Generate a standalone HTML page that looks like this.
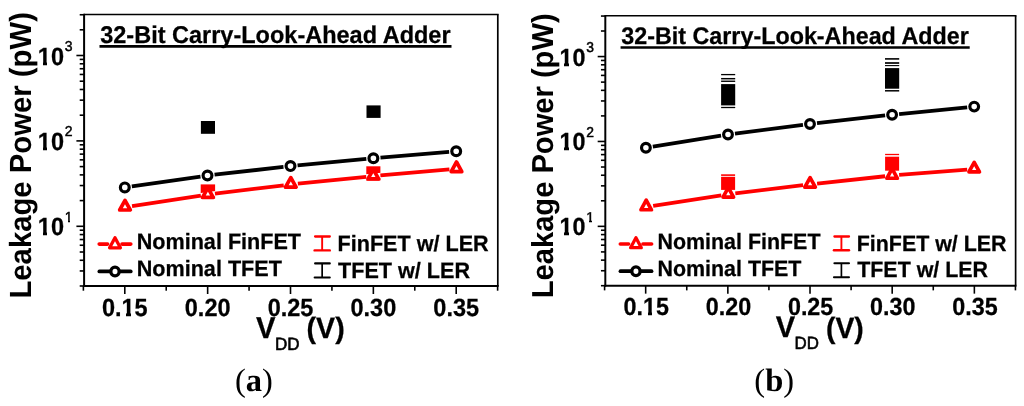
<!DOCTYPE html>
<html><head><meta charset="utf-8"><title>Leakage Power vs VDD</title>
<style>html,body{margin:0;padding:0;background:#fff;overflow:hidden}svg{display:block}</style>
</head><body>
<svg width="1024" height="406" viewBox="0 0 1024 406" text-rendering="geometricPrecision">
<rect width="1024" height="406" fill="#fff"/>
<line x1="84.1" y1="14.5" x2="498.65" y2="14.5" stroke="#000" stroke-width="1.5"/>
<line x1="497.8" y1="14.5" x2="497.8" y2="286.1" stroke="#000" stroke-width="1.7"/>
<line x1="84.1" y1="13.75" x2="84.1" y2="287.1" stroke="#000" stroke-width="2"/>
<line x1="83.1" y1="286.1" x2="498.65" y2="286.1" stroke="#000" stroke-width="2"/>
<line x1="79.7" y1="285.99" x2="84.1" y2="285.99" stroke="#000" stroke-width="1.6"/>
<line x1="79.7" y1="270.95" x2="84.1" y2="270.95" stroke="#000" stroke-width="1.6"/>
<line x1="79.7" y1="260.28" x2="84.1" y2="260.28" stroke="#000" stroke-width="1.6"/>
<line x1="79.7" y1="252.01" x2="84.1" y2="252.01" stroke="#000" stroke-width="1.6"/>
<line x1="79.7" y1="245.25" x2="84.1" y2="245.25" stroke="#000" stroke-width="1.6"/>
<line x1="79.7" y1="239.53" x2="84.1" y2="239.53" stroke="#000" stroke-width="1.6"/>
<line x1="79.7" y1="234.58" x2="84.1" y2="234.58" stroke="#000" stroke-width="1.6"/>
<line x1="79.7" y1="230.21" x2="84.1" y2="230.21" stroke="#000" stroke-width="1.6"/>
<line x1="76.4" y1="226.3" x2="84.1" y2="226.3" stroke="#000" stroke-width="1.6"/>
<line x1="79.7" y1="200.59" x2="84.1" y2="200.59" stroke="#000" stroke-width="1.6"/>
<line x1="79.7" y1="185.55" x2="84.1" y2="185.55" stroke="#000" stroke-width="1.6"/>
<line x1="79.7" y1="174.88" x2="84.1" y2="174.88" stroke="#000" stroke-width="1.6"/>
<line x1="79.7" y1="166.61" x2="84.1" y2="166.61" stroke="#000" stroke-width="1.6"/>
<line x1="79.7" y1="159.85" x2="84.1" y2="159.85" stroke="#000" stroke-width="1.6"/>
<line x1="79.7" y1="154.13" x2="84.1" y2="154.13" stroke="#000" stroke-width="1.6"/>
<line x1="79.7" y1="149.18" x2="84.1" y2="149.18" stroke="#000" stroke-width="1.6"/>
<line x1="79.7" y1="144.81" x2="84.1" y2="144.81" stroke="#000" stroke-width="1.6"/>
<line x1="76.4" y1="140.9" x2="84.1" y2="140.9" stroke="#000" stroke-width="1.6"/>
<line x1="79.7" y1="115.19" x2="84.1" y2="115.19" stroke="#000" stroke-width="1.6"/>
<line x1="79.7" y1="100.15" x2="84.1" y2="100.15" stroke="#000" stroke-width="1.6"/>
<line x1="79.7" y1="89.48" x2="84.1" y2="89.48" stroke="#000" stroke-width="1.6"/>
<line x1="79.7" y1="81.21" x2="84.1" y2="81.21" stroke="#000" stroke-width="1.6"/>
<line x1="79.7" y1="74.45" x2="84.1" y2="74.45" stroke="#000" stroke-width="1.6"/>
<line x1="79.7" y1="68.73" x2="84.1" y2="68.73" stroke="#000" stroke-width="1.6"/>
<line x1="79.7" y1="63.78" x2="84.1" y2="63.78" stroke="#000" stroke-width="1.6"/>
<line x1="79.7" y1="59.41" x2="84.1" y2="59.41" stroke="#000" stroke-width="1.6"/>
<line x1="76.4" y1="55.5" x2="84.1" y2="55.5" stroke="#000" stroke-width="1.6"/>
<line x1="79.7" y1="29.79" x2="84.1" y2="29.79" stroke="#000" stroke-width="1.6"/>
<line x1="79.7" y1="14.75" x2="84.1" y2="14.75" stroke="#000" stroke-width="1.6"/>
<line x1="83.38" y1="286.1" x2="83.38" y2="290.7" stroke="#000" stroke-width="1.6"/>
<line x1="124.8" y1="286.1" x2="124.8" y2="294" stroke="#000" stroke-width="1.6"/>
<line x1="166.22" y1="286.1" x2="166.22" y2="290.7" stroke="#000" stroke-width="1.6"/>
<line x1="207.65" y1="286.1" x2="207.65" y2="294" stroke="#000" stroke-width="1.6"/>
<line x1="249.07" y1="286.1" x2="249.07" y2="290.7" stroke="#000" stroke-width="1.6"/>
<line x1="290.5" y1="286.1" x2="290.5" y2="294" stroke="#000" stroke-width="1.6"/>
<line x1="331.93" y1="286.1" x2="331.93" y2="290.7" stroke="#000" stroke-width="1.6"/>
<line x1="373.35" y1="286.1" x2="373.35" y2="294" stroke="#000" stroke-width="1.6"/>
<line x1="414.77" y1="286.1" x2="414.77" y2="290.7" stroke="#000" stroke-width="1.6"/>
<line x1="456.2" y1="286.1" x2="456.2" y2="294" stroke="#000" stroke-width="1.6"/>
<line x1="497.62" y1="286.1" x2="497.62" y2="290.7" stroke="#000" stroke-width="1.6"/>
<text transform="translate(37.86,235.3) scale(1,1.06)" font-size="23.5" font-weight="bold" text-anchor="start" font-family='"Liberation Sans", Arial, sans-serif' stroke="#000" stroke-width="0.25">10</text>
<text transform="translate(64.8,221.7) scale(1,1.03)" font-size="14" font-weight="normal" text-anchor="start" font-family='"Liberation Sans", Arial, sans-serif' stroke="#000" stroke-width="0.45">1</text>
<text transform="translate(37.86,149.9) scale(1,1.06)" font-size="23.5" font-weight="bold" text-anchor="start" font-family='"Liberation Sans", Arial, sans-serif' stroke="#000" stroke-width="0.25">10</text>
<text transform="translate(64.8,136.3) scale(1,1.03)" font-size="14" font-weight="normal" text-anchor="start" font-family='"Liberation Sans", Arial, sans-serif' stroke="#000" stroke-width="0.45">2</text>
<text transform="translate(37.86,64.5) scale(1,1.06)" font-size="23.5" font-weight="bold" text-anchor="start" font-family='"Liberation Sans", Arial, sans-serif' stroke="#000" stroke-width="0.25">10</text>
<text transform="translate(64.8,50.9) scale(1,1.03)" font-size="14" font-weight="normal" text-anchor="start" font-family='"Liberation Sans", Arial, sans-serif' stroke="#000" stroke-width="0.45">3</text>
<text transform="translate(101.93,316.4) scale(1,1.06)" font-size="23.5" font-weight="bold" text-anchor="start" font-family='"Liberation Sans", Arial, sans-serif' stroke="#000" stroke-width="0.25">0.15</text>
<text transform="translate(184.78,316.4) scale(1,1.06)" font-size="23.5" font-weight="bold" text-anchor="start" font-family='"Liberation Sans", Arial, sans-serif' stroke="#000" stroke-width="0.25">0.20</text>
<text transform="translate(267.63,316.4) scale(1,1.06)" font-size="23.5" font-weight="bold" text-anchor="start" font-family='"Liberation Sans", Arial, sans-serif' stroke="#000" stroke-width="0.25">0.25</text>
<text transform="translate(350.48,316.4) scale(1,1.06)" font-size="23.5" font-weight="bold" text-anchor="start" font-family='"Liberation Sans", Arial, sans-serif' stroke="#000" stroke-width="0.25">0.30</text>
<text transform="translate(433.33,316.4) scale(1,1.06)" font-size="23.5" font-weight="bold" text-anchor="start" font-family='"Liberation Sans", Arial, sans-serif' stroke="#000" stroke-width="0.25">0.35</text>
<text transform="translate(30.6,298.6) rotate(-90) scale(1,1.045)" font-size="29.3" font-weight="bold" font-family='"Liberation Sans", Arial, sans-serif'>Leakage Power (pW)</text>
<text transform="translate(255.9,338) scale(1,1.03)" font-size="29.3" font-weight="bold" text-anchor="start" font-family='"Liberation Sans", Arial, sans-serif' stroke="#000" stroke-width="0.25">V</text>
<text transform="translate(274.9,349.6) scale(1,1.05)" font-size="17" font-weight="normal" text-anchor="start" font-family='"Liberation Sans", Arial, sans-serif' stroke="#000" stroke-width="0.6">DD</text>
<text transform="translate(306.6,338.4) scale(1,1.03)" font-size="28.6" font-weight="bold" text-anchor="start" font-family='"Liberation Sans", Arial, sans-serif' stroke="#000" stroke-width="0.25">(V)</text>
<text transform="translate(100.2,42.5) scale(1,1.03)" font-size="23.5" font-weight="bold" text-anchor="start" font-family='"Liberation Sans", Arial, sans-serif' stroke="#000" stroke-width="0.25">32-Bit Carry-Look-Ahead Adder</text>
<line x1="99.5" y1="46.4" x2="451.5" y2="46.4" stroke="#000" stroke-width="2.6"/>
<line x1="99.2" y1="244.1" x2="107.6" y2="244.1" stroke="#ff0000" stroke-width="3.6" stroke-linecap="round"/>
<line x1="122" y1="244.1" x2="130.8" y2="244.1" stroke="#ff0000" stroke-width="3.6" stroke-linecap="round"/>
<polygon points="115,237.8 120.4,247.8 109.6,247.8" fill="#fff" stroke="#ff0000" stroke-width="3.3" stroke-linejoin="round"/>
<text transform="translate(136.7,249.3) scale(1,1.03)" font-size="21.6" font-weight="bold" text-anchor="start" font-family='"Liberation Sans", Arial, sans-serif' stroke="#000" stroke-width="0.25">Nominal FinFET</text>
<line x1="99.4" y1="271.4" x2="130.7" y2="271.4" stroke="#000" stroke-width="3.8" stroke-linecap="round"/>
<ellipse cx="115" cy="271.45" rx="4.15" ry="4.4" fill="#fff" stroke="#000" stroke-width="3.3"/>
<text transform="translate(136.7,276.4) scale(1,1.03)" font-size="21.6" font-weight="bold" text-anchor="start" font-family='"Liberation Sans", Arial, sans-serif' stroke="#000" stroke-width="0.25">Nominal TFET</text>
<line x1="315.1" y1="236.5" x2="329.8" y2="236.5" stroke="#ff0000" stroke-width="2.3" stroke-linecap="round"/>
<line x1="314.6" y1="250.4" x2="329.8" y2="250.4" stroke="#ff0000" stroke-width="2.4" stroke-linecap="round"/>
<line x1="322.15" y1="236.5" x2="322.15" y2="250.4" stroke="#ff0000" stroke-width="1.9"/>
<line x1="315.1" y1="263.4" x2="329.8" y2="263.4" stroke="#000" stroke-width="2.1" stroke-linecap="round"/>
<line x1="314.6" y1="277.6" x2="329.8" y2="277.6" stroke="#000" stroke-width="2" stroke-linecap="round"/>
<line x1="322.15" y1="263.4" x2="322.15" y2="277.6" stroke="#000" stroke-width="1.7"/>
<text transform="translate(337.55,250.6) scale(1,1.03)" font-size="21.6" font-weight="bold" text-anchor="start" font-family='"Liberation Sans", Arial, sans-serif' stroke="#000" stroke-width="0.25">FinFET w/ LER</text>
<text transform="translate(338.05,277.6) scale(1,1.03)" font-size="21.6" font-weight="bold" text-anchor="start" font-family='"Liberation Sans", Arial, sans-serif' stroke="#000" stroke-width="0.25">TFET w/ LER</text>
<rect x="200.9" y="121" width="14.1" height="12.8" fill="#000"/>
<rect x="366.5" y="105.4" width="14.1" height="12.5" fill="#000"/>
<rect x="200.7" y="184.4" width="14.4" height="14.2" fill="#ff0000"/>
<rect x="366.3" y="166.3" width="14.1" height="14.2" fill="#ff0000"/>
<line x1="124.8" y1="187.4" x2="207.5" y2="175.5" stroke="#fff" stroke-width="5.2"/>
<line x1="207.5" y1="175.5" x2="290.5" y2="166.1" stroke="#fff" stroke-width="5.2"/>
<line x1="290.5" y1="166.1" x2="373.4" y2="158.2" stroke="#fff" stroke-width="5.2"/>
<line x1="373.4" y1="158.2" x2="456.2" y2="151.3" stroke="#fff" stroke-width="5.2"/>
<line x1="131.83" y1="186.39" x2="200.47" y2="176.51" stroke="#000" stroke-width="3.8"/>
<line x1="214.55" y1="174.7" x2="283.45" y2="166.9" stroke="#000" stroke-width="3.8"/>
<line x1="297.57" y1="165.43" x2="366.33" y2="158.87" stroke="#000" stroke-width="3.8"/>
<line x1="380.48" y1="157.61" x2="449.12" y2="151.89" stroke="#000" stroke-width="3.8"/>
<line x1="125" y1="207.2" x2="207.9" y2="194.6" stroke="#fff" stroke-width="5.2"/>
<line x1="207.9" y1="194.6" x2="290.8" y2="184.4" stroke="#fff" stroke-width="5.2"/>
<line x1="290.8" y1="184.4" x2="373.3" y2="176.1" stroke="#fff" stroke-width="5.2"/>
<line x1="373.3" y1="176.1" x2="456.5" y2="168.8" stroke="#fff" stroke-width="5.2"/>
<line x1="132.02" y1="206.13" x2="200.88" y2="195.67" stroke="#ff0000" stroke-width="3.8"/>
<line x1="214.95" y1="193.73" x2="283.75" y2="185.27" stroke="#ff0000" stroke-width="3.8"/>
<line x1="297.86" y1="183.69" x2="366.24" y2="176.81" stroke="#ff0000" stroke-width="3.8"/>
<line x1="380.37" y1="175.48" x2="449.43" y2="169.42" stroke="#ff0000" stroke-width="3.8"/>
<circle cx="124.8" cy="187.4" r="4.4" fill="#fff" stroke="#000" stroke-width="3.2"/>
<circle cx="207.5" cy="175.5" r="4.4" fill="#fff" stroke="#000" stroke-width="3.2"/>
<circle cx="290.5" cy="166.1" r="4.4" fill="#fff" stroke="#000" stroke-width="3.2"/>
<circle cx="373.4" cy="158.2" r="4.4" fill="#fff" stroke="#000" stroke-width="3.2"/>
<circle cx="456.2" cy="151.3" r="4.4" fill="#fff" stroke="#000" stroke-width="3.2"/>
<polygon points="125,200.4 130.3,210 119.7,210" fill="#fff" stroke="#ff0000" stroke-width="3.7" stroke-linejoin="round"/>
<polygon points="207.9,187.8 213.2,197.4 202.6,197.4" fill="#fff" stroke="#ff0000" stroke-width="3.7" stroke-linejoin="round"/>
<polygon points="290.8,177.6 296.1,187.2 285.5,187.2" fill="#fff" stroke="#ff0000" stroke-width="3.7" stroke-linejoin="round"/>
<polygon points="373.3,169.3 378.6,178.9 368,178.9" fill="#fff" stroke="#ff0000" stroke-width="3.7" stroke-linejoin="round"/>
<polygon points="456.5,162 461.8,171.6 451.2,171.6" fill="#fff" stroke="#ff0000" stroke-width="3.7" stroke-linejoin="round"/>
<rect x="38.42" y="231.03" width="4.58" height="5.09" fill="#fff"/>
<rect x="47" y="231.03" width="4.2" height="5.09" fill="#fff"/>
<rect x="64.84" y="219.4" width="3.16" height="3.83" fill="#fff"/>
<rect x="70" y="219.4" width="2.93" height="3.83" fill="#fff"/>
<rect x="38.42" y="146.03" width="4.58" height="5.09" fill="#fff"/>
<rect x="47" y="146.03" width="4.2" height="5.09" fill="#fff"/>
<rect x="38.42" y="61.03" width="4.58" height="5.09" fill="#fff"/>
<rect x="47" y="61.03" width="4.2" height="5.09" fill="#fff"/>
<rect x="122.08" y="312.03" width="3.92" height="5.09" fill="#fff"/>
<rect x="131" y="312.03" width="3.87" height="5.09" fill="#fff"/>
<g transform="translate(521.9,1.39) scale(0.9918,0.9941)">
<line x1="84.1" y1="14.5" x2="498.65" y2="14.5" stroke="#000" stroke-width="1.5"/>
<line x1="497.8" y1="14.5" x2="497.8" y2="286.1" stroke="#000" stroke-width="1.7"/>
<line x1="84.1" y1="13.75" x2="84.1" y2="287.1" stroke="#000" stroke-width="2"/>
<line x1="83.1" y1="286.1" x2="498.65" y2="286.1" stroke="#000" stroke-width="2"/>
<line x1="79.7" y1="285.99" x2="84.1" y2="285.99" stroke="#000" stroke-width="1.6"/>
<line x1="79.7" y1="270.95" x2="84.1" y2="270.95" stroke="#000" stroke-width="1.6"/>
<line x1="79.7" y1="260.28" x2="84.1" y2="260.28" stroke="#000" stroke-width="1.6"/>
<line x1="79.7" y1="252.01" x2="84.1" y2="252.01" stroke="#000" stroke-width="1.6"/>
<line x1="79.7" y1="245.25" x2="84.1" y2="245.25" stroke="#000" stroke-width="1.6"/>
<line x1="79.7" y1="239.53" x2="84.1" y2="239.53" stroke="#000" stroke-width="1.6"/>
<line x1="79.7" y1="234.58" x2="84.1" y2="234.58" stroke="#000" stroke-width="1.6"/>
<line x1="79.7" y1="230.21" x2="84.1" y2="230.21" stroke="#000" stroke-width="1.6"/>
<line x1="76.4" y1="226.3" x2="84.1" y2="226.3" stroke="#000" stroke-width="1.6"/>
<line x1="79.7" y1="200.59" x2="84.1" y2="200.59" stroke="#000" stroke-width="1.6"/>
<line x1="79.7" y1="185.55" x2="84.1" y2="185.55" stroke="#000" stroke-width="1.6"/>
<line x1="79.7" y1="174.88" x2="84.1" y2="174.88" stroke="#000" stroke-width="1.6"/>
<line x1="79.7" y1="166.61" x2="84.1" y2="166.61" stroke="#000" stroke-width="1.6"/>
<line x1="79.7" y1="159.85" x2="84.1" y2="159.85" stroke="#000" stroke-width="1.6"/>
<line x1="79.7" y1="154.13" x2="84.1" y2="154.13" stroke="#000" stroke-width="1.6"/>
<line x1="79.7" y1="149.18" x2="84.1" y2="149.18" stroke="#000" stroke-width="1.6"/>
<line x1="79.7" y1="144.81" x2="84.1" y2="144.81" stroke="#000" stroke-width="1.6"/>
<line x1="76.4" y1="140.9" x2="84.1" y2="140.9" stroke="#000" stroke-width="1.6"/>
<line x1="79.7" y1="115.19" x2="84.1" y2="115.19" stroke="#000" stroke-width="1.6"/>
<line x1="79.7" y1="100.15" x2="84.1" y2="100.15" stroke="#000" stroke-width="1.6"/>
<line x1="79.7" y1="89.48" x2="84.1" y2="89.48" stroke="#000" stroke-width="1.6"/>
<line x1="79.7" y1="81.21" x2="84.1" y2="81.21" stroke="#000" stroke-width="1.6"/>
<line x1="79.7" y1="74.45" x2="84.1" y2="74.45" stroke="#000" stroke-width="1.6"/>
<line x1="79.7" y1="68.73" x2="84.1" y2="68.73" stroke="#000" stroke-width="1.6"/>
<line x1="79.7" y1="63.78" x2="84.1" y2="63.78" stroke="#000" stroke-width="1.6"/>
<line x1="79.7" y1="59.41" x2="84.1" y2="59.41" stroke="#000" stroke-width="1.6"/>
<line x1="76.4" y1="55.5" x2="84.1" y2="55.5" stroke="#000" stroke-width="1.6"/>
<line x1="79.7" y1="29.79" x2="84.1" y2="29.79" stroke="#000" stroke-width="1.6"/>
<line x1="79.7" y1="14.75" x2="84.1" y2="14.75" stroke="#000" stroke-width="1.6"/>
<line x1="83.38" y1="286.1" x2="83.38" y2="290.7" stroke="#000" stroke-width="1.6"/>
<line x1="124.8" y1="286.1" x2="124.8" y2="294" stroke="#000" stroke-width="1.6"/>
<line x1="166.22" y1="286.1" x2="166.22" y2="290.7" stroke="#000" stroke-width="1.6"/>
<line x1="207.65" y1="286.1" x2="207.65" y2="294" stroke="#000" stroke-width="1.6"/>
<line x1="249.07" y1="286.1" x2="249.07" y2="290.7" stroke="#000" stroke-width="1.6"/>
<line x1="290.5" y1="286.1" x2="290.5" y2="294" stroke="#000" stroke-width="1.6"/>
<line x1="331.93" y1="286.1" x2="331.93" y2="290.7" stroke="#000" stroke-width="1.6"/>
<line x1="373.35" y1="286.1" x2="373.35" y2="294" stroke="#000" stroke-width="1.6"/>
<line x1="414.77" y1="286.1" x2="414.77" y2="290.7" stroke="#000" stroke-width="1.6"/>
<line x1="456.2" y1="286.1" x2="456.2" y2="294" stroke="#000" stroke-width="1.6"/>
<line x1="497.62" y1="286.1" x2="497.62" y2="290.7" stroke="#000" stroke-width="1.6"/>
<text transform="translate(37.86,235.3) scale(1,1.06)" font-size="23.5" font-weight="bold" text-anchor="start" font-family='"Liberation Sans", Arial, sans-serif' stroke="#000" stroke-width="0.25">10</text>
<text transform="translate(64.8,221.7) scale(1,1.03)" font-size="14" font-weight="normal" text-anchor="start" font-family='"Liberation Sans", Arial, sans-serif' stroke="#000" stroke-width="0.45">1</text>
<text transform="translate(37.86,149.9) scale(1,1.06)" font-size="23.5" font-weight="bold" text-anchor="start" font-family='"Liberation Sans", Arial, sans-serif' stroke="#000" stroke-width="0.25">10</text>
<text transform="translate(64.8,136.3) scale(1,1.03)" font-size="14" font-weight="normal" text-anchor="start" font-family='"Liberation Sans", Arial, sans-serif' stroke="#000" stroke-width="0.45">2</text>
<text transform="translate(37.86,64.5) scale(1,1.06)" font-size="23.5" font-weight="bold" text-anchor="start" font-family='"Liberation Sans", Arial, sans-serif' stroke="#000" stroke-width="0.25">10</text>
<text transform="translate(64.8,50.9) scale(1,1.03)" font-size="14" font-weight="normal" text-anchor="start" font-family='"Liberation Sans", Arial, sans-serif' stroke="#000" stroke-width="0.45">3</text>
<text transform="translate(102.53,315.4) scale(1,1.06)" font-size="23.5" font-weight="bold" text-anchor="start" font-family='"Liberation Sans", Arial, sans-serif' stroke="#000" stroke-width="0.25">0.15</text>
<text transform="translate(185.38,315.4) scale(1,1.06)" font-size="23.5" font-weight="bold" text-anchor="start" font-family='"Liberation Sans", Arial, sans-serif' stroke="#000" stroke-width="0.25">0.20</text>
<text transform="translate(268.23,315.4) scale(1,1.06)" font-size="23.5" font-weight="bold" text-anchor="start" font-family='"Liberation Sans", Arial, sans-serif' stroke="#000" stroke-width="0.25">0.25</text>
<text transform="translate(351.08,315.4) scale(1,1.06)" font-size="23.5" font-weight="bold" text-anchor="start" font-family='"Liberation Sans", Arial, sans-serif' stroke="#000" stroke-width="0.25">0.30</text>
<text transform="translate(433.93,315.4) scale(1,1.06)" font-size="23.5" font-weight="bold" text-anchor="start" font-family='"Liberation Sans", Arial, sans-serif' stroke="#000" stroke-width="0.25">0.35</text>
<text transform="translate(31.3,298.6) rotate(-90) scale(1,1.045)" font-size="29.3" font-weight="bold" font-family='"Liberation Sans", Arial, sans-serif'>Leakage Power (pW)</text>
<text transform="translate(255.9,338) scale(1,1.03)" font-size="29.3" font-weight="bold" text-anchor="start" font-family='"Liberation Sans", Arial, sans-serif' stroke="#000" stroke-width="0.25">V</text>
<text transform="translate(274.9,349.6) scale(1,1.05)" font-size="17" font-weight="normal" text-anchor="start" font-family='"Liberation Sans", Arial, sans-serif' stroke="#000" stroke-width="0.6">DD</text>
<text transform="translate(306.6,338.4) scale(1,1.03)" font-size="28.6" font-weight="bold" text-anchor="start" font-family='"Liberation Sans", Arial, sans-serif' stroke="#000" stroke-width="0.25">(V)</text>
<text transform="translate(100.2,42.5) scale(1,1.03)" font-size="23.5" font-weight="bold" text-anchor="start" font-family='"Liberation Sans", Arial, sans-serif' stroke="#000" stroke-width="0.25">32-Bit Carry-Look-Ahead Adder</text>
<line x1="99.5" y1="46.4" x2="451.5" y2="46.4" stroke="#000" stroke-width="2.6"/>
<line x1="99.2" y1="244.1" x2="107.6" y2="244.1" stroke="#ff0000" stroke-width="3.6" stroke-linecap="round"/>
<line x1="122" y1="244.1" x2="130.8" y2="244.1" stroke="#ff0000" stroke-width="3.6" stroke-linecap="round"/>
<polygon points="115,237.8 120.4,247.8 109.6,247.8" fill="#fff" stroke="#ff0000" stroke-width="3.3" stroke-linejoin="round"/>
<text transform="translate(136.7,249.3) scale(1,1.03)" font-size="21.6" font-weight="bold" text-anchor="start" font-family='"Liberation Sans", Arial, sans-serif' stroke="#000" stroke-width="0.25">Nominal FinFET</text>
<line x1="99.4" y1="271.4" x2="130.7" y2="271.4" stroke="#000" stroke-width="3.8" stroke-linecap="round"/>
<ellipse cx="115" cy="271.45" rx="4.15" ry="4.4" fill="#fff" stroke="#000" stroke-width="3.3"/>
<text transform="translate(136.7,276.4) scale(1,1.03)" font-size="21.6" font-weight="bold" text-anchor="start" font-family='"Liberation Sans", Arial, sans-serif' stroke="#000" stroke-width="0.25">Nominal TFET</text>
<line x1="315.1" y1="236.5" x2="329.8" y2="236.5" stroke="#ff0000" stroke-width="2.3" stroke-linecap="round"/>
<line x1="314.6" y1="250.4" x2="329.8" y2="250.4" stroke="#ff0000" stroke-width="2.4" stroke-linecap="round"/>
<line x1="322.15" y1="236.5" x2="322.15" y2="250.4" stroke="#ff0000" stroke-width="1.9"/>
<line x1="315.1" y1="263.4" x2="329.8" y2="263.4" stroke="#000" stroke-width="2.1" stroke-linecap="round"/>
<line x1="314.6" y1="277.6" x2="329.8" y2="277.6" stroke="#000" stroke-width="2" stroke-linecap="round"/>
<line x1="322.15" y1="263.4" x2="322.15" y2="277.6" stroke="#000" stroke-width="1.7"/>
<text transform="translate(337.55,250.6) scale(1,1.03)" font-size="21.6" font-weight="bold" text-anchor="start" font-family='"Liberation Sans", Arial, sans-serif' stroke="#000" stroke-width="0.25">FinFET w/ LER</text>
<text transform="translate(338.05,277.6) scale(1,1.03)" font-size="21.6" font-weight="bold" text-anchor="start" font-family='"Liberation Sans", Arial, sans-serif' stroke="#000" stroke-width="0.25">TFET w/ LER</text>
<line x1="200.85" y1="73.64" x2="215.06" y2="73.64" stroke="#000" stroke-width="1.31"/>
<line x1="200.85" y1="78.98" x2="215.06" y2="78.98" stroke="#999" stroke-width="1.81"/>
<line x1="200.85" y1="77.57" x2="215.06" y2="77.57" stroke="#000" stroke-width="1.11"/>
<line x1="200.85" y1="80.48" x2="215.06" y2="80.48" stroke="#000" stroke-width="1.11"/>
<line x1="200.85" y1="106.74" x2="215.06" y2="106.74" stroke="#000" stroke-width="1.31"/>
<rect x="200.85" y="83.2" width="14.22" height="21.43" fill="#000"/>
<line x1="366.1" y1="57.85" x2="380.42" y2="57.85" stroke="#000" stroke-width="1.61"/>
<line x1="366.1" y1="61.98" x2="380.42" y2="61.98" stroke="#000" stroke-width="1.71"/>
<line x1="366.1" y1="64.59" x2="380.42" y2="64.59" stroke="#000" stroke-width="1.11"/>
<line x1="366.1" y1="89.94" x2="380.42" y2="89.94" stroke="#000" stroke-width="1.51"/>
<rect x="366.1" y="67.11" width="14.32" height="20.72" fill="#000"/>
<line x1="200.85" y1="174.74" x2="214.96" y2="174.74" stroke="#ff0000" stroke-width="1.61"/>
<rect x="200.85" y="176.45" width="14.12" height="13.18" fill="#ff0000"/>
<line x1="366.2" y1="154.02" x2="380.32" y2="154.02" stroke="#ff0000" stroke-width="1.31"/>
<rect x="366.2" y="156.23" width="14.12" height="14.08" fill="#ff0000"/>
<line x1="125.03" y1="147.28" x2="207.8" y2="133.9" stroke="#fff" stroke-width="5.2"/>
<line x1="207.8" y1="133.9" x2="290.48" y2="123.34" stroke="#fff" stroke-width="5.2"/>
<line x1="290.48" y1="123.34" x2="373.26" y2="113.98" stroke="#fff" stroke-width="5.2"/>
<line x1="373.26" y1="113.98" x2="456.04" y2="105.83" stroke="#fff" stroke-width="5.2"/>
<line x1="132.03" y1="146.15" x2="200.79" y2="135.03" stroke="#000" stroke-width="3.8"/>
<line x1="214.85" y1="133" x2="283.44" y2="124.24" stroke="#000" stroke-width="3.8"/>
<line x1="297.54" y1="122.54" x2="366.21" y2="114.78" stroke="#000" stroke-width="3.8"/>
<line x1="380.33" y1="113.29" x2="448.97" y2="106.53" stroke="#000" stroke-width="3.8"/>
<line x1="125.33" y1="206.82" x2="208.11" y2="194.04" stroke="#fff" stroke-width="5.2"/>
<line x1="208.11" y1="194.04" x2="290.58" y2="184.08" stroke="#fff" stroke-width="5.2"/>
<line x1="290.58" y1="184.08" x2="373.26" y2="175.13" stroke="#fff" stroke-width="5.2"/>
<line x1="373.26" y1="175.13" x2="456.04" y2="168.69" stroke="#fff" stroke-width="5.2"/>
<line x1="132.34" y1="205.74" x2="201.09" y2="195.13" stroke="#ff0000" stroke-width="3.8"/>
<line x1="215.16" y1="193.19" x2="283.53" y2="184.94" stroke="#ff0000" stroke-width="3.8"/>
<line x1="297.64" y1="183.32" x2="366.2" y2="175.9" stroke="#ff0000" stroke-width="3.8"/>
<line x1="380.34" y1="174.58" x2="448.96" y2="169.24" stroke="#ff0000" stroke-width="3.8"/>
<circle cx="125.03" cy="147.28" r="4.4" fill="#fff" stroke="#000" stroke-width="3.2"/>
<circle cx="207.8" cy="133.9" r="4.4" fill="#fff" stroke="#000" stroke-width="3.2"/>
<circle cx="290.48" cy="123.34" r="4.4" fill="#fff" stroke="#000" stroke-width="3.2"/>
<circle cx="373.26" cy="113.98" r="4.4" fill="#fff" stroke="#000" stroke-width="3.2"/>
<circle cx="456.04" cy="105.83" r="4.4" fill="#fff" stroke="#000" stroke-width="3.2"/>
<polygon points="125.33,200.02 130.63,209.62 120.03,209.62" fill="#fff" stroke="#ff0000" stroke-width="3.7" stroke-linejoin="round"/>
<polygon points="208.11,187.24 213.41,196.84 202.81,196.84" fill="#fff" stroke="#ff0000" stroke-width="3.7" stroke-linejoin="round"/>
<polygon points="290.58,177.28 295.88,186.88 285.28,186.88" fill="#fff" stroke="#ff0000" stroke-width="3.7" stroke-linejoin="round"/>
<polygon points="373.26,168.33 378.56,177.93 367.96,177.93" fill="#fff" stroke="#ff0000" stroke-width="3.7" stroke-linejoin="round"/>
<polygon points="456.04,161.89 461.34,171.49 450.74,171.49" fill="#fff" stroke="#ff0000" stroke-width="3.7" stroke-linejoin="round"/>
<rect x="38.42" y="231.03" width="4.03" height="5.09" fill="#fff"/>
<rect x="47.49" y="231.03" width="3.71" height="5.09" fill="#fff"/>
<rect x="64.84" y="219.32" width="2.81" height="3.83" fill="#fff"/>
<rect x="70.68" y="219.32" width="2.25" height="3.83" fill="#fff"/>
<rect x="38.42" y="145.52" width="4.03" height="5.09" fill="#fff"/>
<rect x="47.49" y="145.52" width="3.71" height="5.09" fill="#fff"/>
<rect x="38.42" y="61.03" width="4.03" height="5.09" fill="#fff"/>
<rect x="47.49" y="61.03" width="3.71" height="5.09" fill="#fff"/>
<rect x="122.68" y="311.5" width="4.46" height="5.09" fill="#fff"/>
<rect x="131.18" y="311.5" width="4.29" height="5.09" fill="#fff"/>
</g>
<text x="235" y="391" font-size="32.5" font-family='"Liberation Serif", "Times New Roman", serif'>(<tspan font-weight="bold">a</tspan>)</text>
<text x="754.3" y="391" font-size="32.5" font-family='"Liberation Serif", "Times New Roman", serif'>(<tspan font-weight="bold">b</tspan>)</text>
</svg>
</body></html>
